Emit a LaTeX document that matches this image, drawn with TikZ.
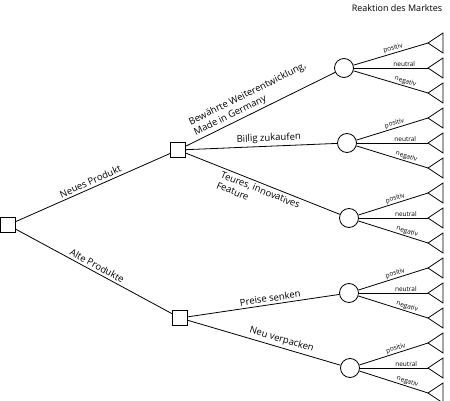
\documentclass[tikz,border=0pt]{standalone}
\usepackage{fontspec}
\setmainfont{Open Sans}
\begin{document}
\begin{tikzpicture}[
  x=1pt, y=-1pt,
  mkdecision/.style = {draw, rectangle, minimum size=15pt, inner sep=0pt, line width=0.8pt},
  mkchance/.style = {draw, circle, minimum size=19pt, inner sep=0pt, line width=0.8pt},
  mkedge/.style = {line width=0.8pt},
  mklbl/.style = {font=\fontsize{9.5}{11.5}\selectfont, sloped, inner sep=2.5pt},
  mksmall/.style = {font=\fontsize{6.5}{7}\selectfont, sloped, above, inner sep=1pt}
]
  \useasboundingbox (0,0) rectangle (450,401);
  % Entscheidungsknoten
  \node[mkdecision] (root) at (8,225) {};
  \node[mkdecision] (neu) at (178,150) {};
  \node[mkdecision] (alt) at (180,318) {};
  % Zufallsknoten
  \node[mkchance] (c1) at (344,68) {};
  \node[mkchance] (c2) at (347,143) {};
  \node[mkchance] (c3) at (349,218) {};
  \node[mkchance] (c4) at (349,293) {};
  \node[mkchance] (c5) at (350,368) {};
  % Endknoten
  \foreach \i in {1,...,15} {
    \coordinate (e\i) at (428,18+25*\i);
    \draw[mkedge, line join=miter] (e\i) -- ++(15,-10) -- ++(0,20) -- cycle;
  }
  % Entscheidungen
  \draw[mkedge] (root) -- (neu) node[mklbl, midway, above] {Neues Produkt};
  \draw[mkedge] (root) -- (alt) node[mklbl, midway, above] {Alte Produkte};
  \draw[mkedge] (neu) -- (c1) node[mklbl, pos=0.47, above, align=left] {Bewährte Weiterentwicklung,\\Made in Germany};
  \draw[mkedge] (neu) -- (c2) node[mklbl, pos=0.55, above] {Billig zukaufen};
  \draw[mkedge] (neu) -- (c3) node[mklbl, midway, below, align=left] {Teures, innovatives\\Feature};
  \draw[mkedge] (alt) -- (c4) node[mklbl, pos=0.55, above] {Preise senken};
  \draw[mkedge] (alt) -- (c5) node[mklbl, pos=0.6, above] {Neu verpacken};
  % Reaktionen
  \foreach \c/\a/\b/\d in {c1/1/2/3, c2/4/5/6, c3/7/8/9, c4/10/11/12, c5/13/14/15} {
    \draw[mkedge] (\c) -- (e\a) node[mksmall, pos=0.55] {positiv};
    \draw[mkedge] (\c) -- (e\b) node[mksmall, pos=0.68] {neutral};
    \draw[mkedge] (\c) -- (e\d) node[mksmall, pos=0.68] {negativ};
  }
  \node[font=\fontsize{9}{10}\selectfont] (titel) at (397,8) {Reaktion des Marktes};
\end{tikzpicture}
\end{document}
